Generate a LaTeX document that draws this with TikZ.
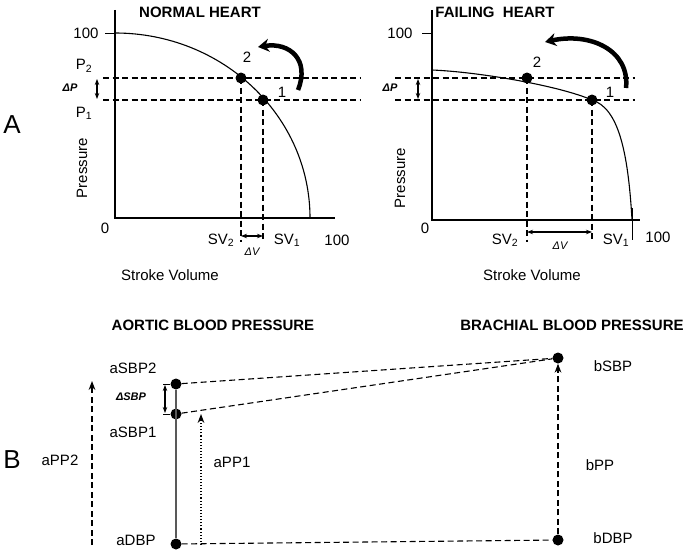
\documentclass[tikz,border=0pt]{standalone}
\usepackage{fontspec}
\setmainfont{Liberation Sans}
\usetikzlibrary{arrows.meta}
\newcommand{\sbs}[1]{\textsubscript{#1}}
\begin{document}
\begin{tikzpicture}[x=1pt,y=-1pt,font=\fontsize{15}{17}\selectfont,
  ax/.style={line width=2pt},
  dsh/.style={dashed,dash pattern=on 6pt off 3.5pt,line width=1.1pt},
  dot/.style={circle,fill=black,inner sep=0pt,minimum size=11pt},
  dbl/.style={{Stealth[length=6pt]}-{Stealth[length=6pt]},line width=1.6pt},
  curv/.style={line width=4.5pt,-{Stealth[length=11pt,width=13pt]}},
  hd/.style={font=\fontsize{15}{17}\selectfont\bfseries},
  sm/.style={font=\fontsize{11}{13}\selectfont\bfseries\itshape}]
\useasboundingbox (0,0) rectangle (685,551);
% ---------- A left
\node at (12,125) {\fontsize{26}{28}\selectfont A};
\node[hd] (t1) at (200,12) {NORMAL HEART};
\draw[ax] (115,10) -- (115,218) -- (335,218);
\draw[line width=0.8pt] (105,33) -- (115,33);
\node at (86,33) {100};
\node at (105,228) {0};
\draw[line width=1.1pt] (115,33) arc[start angle=90,end angle=0,x radius=195,y radius=-185];
\coordinate (a2) at (241,78); \coordinate (a1) at (263,100);
\draw[dsh] (103,78) -- (360,78);
\draw[dsh] (103,100) -- (360,100);
\draw[dsh] (a2) -- (241,242);
\draw[dsh] (a1) -- (263,242);
\node[dot] (p2) at (a2) {}; \node[dot] (p1) at (a1) {};
\node at (247,57) {2}; \node at (282,92) {1};
\draw[curv] (298,90) .. controls (310,60) and (290,42) .. (258,47);
\coordinate (dpa) at (97,79); \coordinate (dpb) at (97,99);
\draw[dbl] (dpa) -- (dpb);
\node[sm] at (70,88) {ΔP};
\node at (84,66) {P\sbs{2}}; \node at (84,113) {P\sbs{1}};
\node[rotate=90] at (82,168) {Pressure};
\coordinate (dva) at (241,236); \coordinate (dvb) at (263,236);
\draw[dbl] (dva) -- (dvb);
\node[font=\fontsize{11}{13}\selectfont\itshape] at (252,252) {ΔV};
\node at (221,240) {SV\sbs{2}}; \node at (287,240) {SV\sbs{1}}; \node at (337,240) {100};
\node at (170,275) {Stroke Volume};
% ---------- A right
\node[hd] (t2) at (495,12) {FAILING\ \ HEART};
\draw[ax] (432,10) -- (432,220) -- (640,220);
\draw[line width=0.8pt] (422,33) -- (432,33);
\node at (400,33) {100};
\node at (425,228) {0};
\coordinate (b2) at (527,78); \coordinate (b1) at (592,100);
\draw[line width=1.1pt] (432,70) .. controls (480,72) and (560,86) .. (b1) .. controls (618,108) and (628,150) .. (632,220);
\draw[line width=1pt] (632,208) -- (632,240);
\draw[dsh] (395,78) -- (635,78);
\draw[dsh] (395,100) -- (635,100);
\draw[dsh] (b2) -- (527,242);
\draw[dsh] (b1) -- (592,242);
\node[dot] (q2) at (b2) {}; \node[dot] (q1) at (b1) {};
\node at (537,62) {2}; \node at (610,92) {1};
\draw[curv] (626,88) .. controls (630,50) and (590,32) .. (545,42);
\coordinate (dqa) at (418,79); \coordinate (dqb) at (418,99);
\draw[dbl] (dqa) -- (dqb);
\node[sm] at (390,88) {ΔP};
\node[rotate=90] at (400,178) {Pressure};
\coordinate (dwa) at (527,232); \coordinate (dwb) at (592,232);
\draw[dbl] (dwa) -- (dwb);
\node[font=\fontsize{11}{13}\selectfont\itshape] at (560,246) {ΔV};
\node at (505,240) {SV\sbs{2}}; \node at (616,240) {SV\sbs{1}}; \node at (658,237) {100};
\node at (532,275) {Stroke Volume};
% ---------- B
\node at (12,460) {\fontsize{26}{28}\selectfont B};
\node[hd] at (213,325) {AORTIC BLOOD PRESSURE};
\node[hd] at (572,325) {BRACHIAL BLOOD PRESSURE};
\node[dot] (as2) at (176,384) {};
\node[dot] (as1) at (176,414) {};
\node[dot] (ad) at (176,544) {};
\node[dot] (bs) at (558,358) {};
\node[dot] (bd) at (558,540) {};
\draw[gray!70!black,line width=1.3pt] (as2) -- (ad);
\draw[dsh] (as2) -- (bs);
\draw[dsh] (as1) -- (bs);
\draw[dsh] (ad) -- (bd);
\draw[line width=0.9pt] (as2.west) -- (163,384) (as1.west) -- (163,414);
\draw[dbl,line width=2.2pt] (165,385) -- (165,413);
\node[sm] at (131,397) {ΔSBP};
\coordinate (p2b) at (92,545); \coordinate (p2t) at (92,381);
\draw[dsh,-{Stealth[length=9pt]}] (p2b) -- (p2t);
\node at (60,460) {aPP2};
\coordinate (p1b) at (201,545); \coordinate (p1t) at (201,414);
\draw[dotted,line width=1.1pt,-{Stealth[length=9pt]}] (p1b) -- (p1t);
\node at (232,462) {aPP1};
\draw[dsh,-{Stealth[length=9pt]}] (bd) -- (bs);
\node at (600,465) {bPP};
\node at (133,368) {aSBP2};
\node at (133,432) {aSBP1};
\node at (136,540) {aDBP};
\node at (613,366) {bSBP};
\node at (613,538) {bDBP};
\end{tikzpicture}
\end{document}
